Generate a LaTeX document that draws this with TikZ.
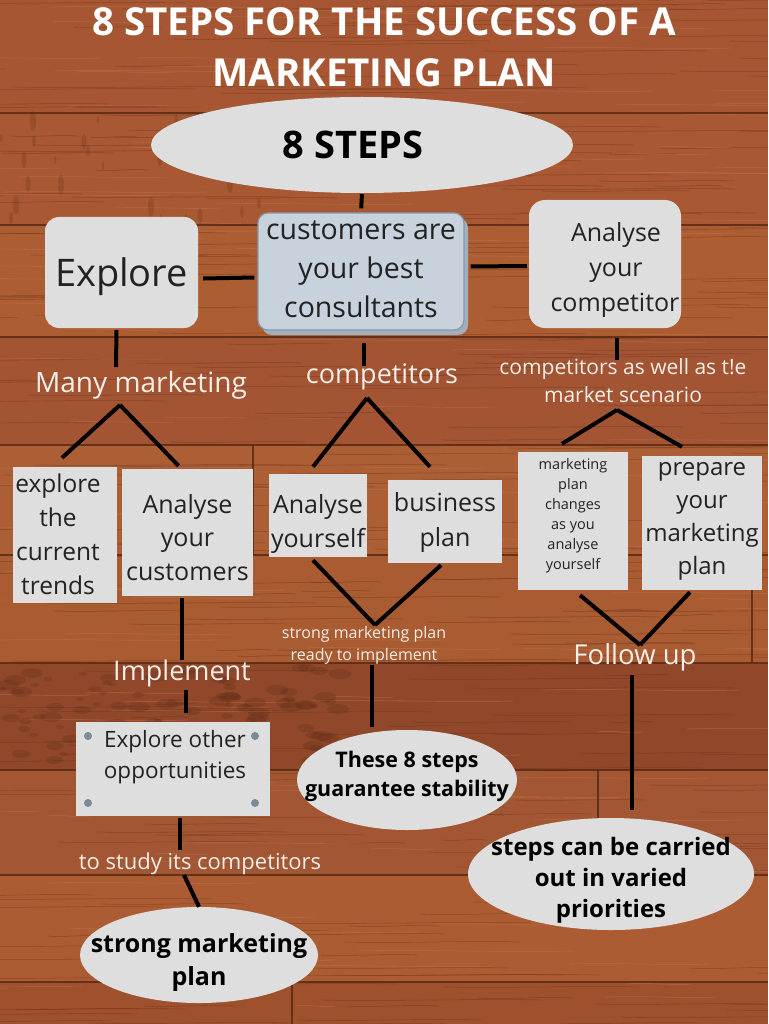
\documentclass[tikz,border=0pt]{standalone}
\usepackage{fontspec}
\setmainfont{Open Sans}
\usetikzlibrary{shapes.geometric,shadows}
\definecolor{boxgray}{HTML}{DEDEDE}
\definecolor{textdark}{HTML}{222222}
\definecolor{lblwhite}{HTML}{F6EEE8}
\definecolor{custfill}{HTML}{C8D2DC}
\definecolor{custline}{HTML}{8797A8}
\definecolor{custshadow}{HTML}{A0AEBD}
\definecolor{dotgray}{HTML}{7C8A98}
\definecolor{seam}{HTML}{5A2A15}
\definecolor{wooddark}{HTML}{5E2C16}
\definecolor{woodlight}{HTML}{C27A4A}
\definecolor{pA}{HTML}{A65632}
\definecolor{pB}{HTML}{A85832}
\definecolor{pC}{HTML}{AD5D32}
\definecolor{pD}{HTML}{A25433}
\definecolor{pE}{HTML}{AC5E35}
\definecolor{pF}{HTML}{A95B32}
\definecolor{pG}{HTML}{91482A}
\definecolor{pH}{HTML}{A35633}
\definecolor{pI}{HTML}{AC5C32}
\definecolor{pJ}{HTML}{9F512E}
% shift a centred text block: #1 = width, #2 = space on top, #3 = space below, #4 = text
\newcommand{\tblock}[4]{\parbox{#1}{\centering\vspace*{#2}#4\par\vspace*{#3}}}
\tikzset{
  conn/.style={line width=4pt, black},
  gbox/.style={fill=boxgray, draw=none, inner sep=0pt, align=center, text=textdark},
  lbl/.style={text=lblwhite, align=center, inner sep=0pt},
  oval/.style={ellipse, fill=boxgray, inner xsep=-45pt, inner ysep=-20pt, align=center, text=black},
  grain/.style={draw=wooddark, opacity=0.28, line width=0.8pt},
  lightgrain/.style={draw=woodlight, opacity=0.35, line width=0.8pt},
  seamline/.style={draw=seam, line width=2.2pt, opacity=0.85},
}
\begin{document}
\begin{tikzpicture}[x=1pt,y=-1pt]
\useasboundingbox (0,0) rectangle (768,1024);
\begin{scope}
\clip (0,0) rectangle (768,1024);
% planks
\fill[pA] (0,0) rectangle (768,113);
\fill[pB] (0,113) rectangle (768,225);
\fill[pC] (0,225) rectangle (768,337);
\fill[pD] (0,337) rectangle (768,445);
\fill[pE] (0,445) rectangle (768,555);
\fill[pF] (0,555) rectangle (768,663);
\fill[pG] (0,663) rectangle (768,770);
\fill[pH] (0,770) rectangle (768,875);
\fill[pI] (0,875) rectangle (768,982);
\fill[pJ] (0,982) rectangle (768,1024);
% grain
\pgfmathsetseed{42}
\foreach \i in {1,...,320}{
  \pgfmathsetmacro{\gx}{random(-100,768)}
  \pgfmathsetmacro{\gy}{random(0,1024)}
  \pgfmathsetmacro{\gl}{random(40,280)}
  \draw[grain] (\gx,\gy) .. controls (\gx+\gl/3,\gy+2) and (\gx+2*\gl/3,\gy-2) .. (\gx+\gl,\gy);
}
\foreach \i in {1,...,160}{
  \pgfmathsetmacro{\gx}{random(-100,768)}
  \pgfmathsetmacro{\gy}{random(0,1024)}
  \pgfmathsetmacro{\gl}{random(40,220)}
  \draw[lightgrain] (\gx,\gy) .. controls (\gx+\gl/3,\gy-2) and (\gx+2*\gl/3,\gy+2) .. (\gx+\gl,\gy);
}
% dark streaks
\foreach \i in {1,...,110}{
  \pgfmathsetmacro{\sx}{random(0,340)}
  \pgfmathsetmacro{\sy}{random(668,765)}
  \pgfmathsetmacro{\sr}{random(2,5)}
  \fill[wooddark, opacity=0.28] (\sx,\sy) ellipse ({\sr*2.2} and {\sr});
}
\foreach \i in {1,...,25}{
  \pgfmathsetmacro{\sx}{random(0,260)}
  \pgfmathsetmacro{\sy}{random(118,220)}
  \pgfmathsetmacro{\sr}{random(2,5)}
  \fill[wooddark, opacity=0.22] (\sx,\sy) ellipse ({\sr*0.6} and {\sr*2});
}
% seams
\foreach \yy in {113,225,337,445,555,663,770,875,982}{
  \draw[seamline] (0,\yy) -- (768,\yy);
}
\draw[seamline] (253,445) -- (253,555);
\draw[seamline] (752,555) -- (752,663);
\draw[seamline] (598,770) -- (598,875);
\draw[seamline] (292,982) -- (292,1024);
\end{scope}

% title
\node[lbl, text=white, font=\fontsize{38.5}{44}\selectfont\bfseries] (t1) at (384,22) {8 STEPS FOR THE SUCCESS OF A};
\node[lbl, text=white, font=\fontsize{38.5}{44}\selectfont\bfseries] (t2) at (384,73) {MARKETING PLAN};

% top ellipse
\node[oval, minimum width=422pt, minimum height=96pt, font=\fontsize{38}{40}\selectfont\bfseries] (steps) at (362,145) {\hspace*{-18pt}8 STEPS};

% top row
\node[gbox, fill=custfill, draw=custline, line width=1.2pt, rounded corners=10pt,
      minimum width=206pt, minimum height=117pt,
      drop shadow={shadow xshift=4pt, shadow yshift=-5pt, fill=custshadow, opacity=1},
      font=\fontsize{28.5}{39}\selectfont] (cust) at (361,271.5) {\tblock{206pt}{0pt}{4pt}{customers are\\your best\\consultants}};
\node[gbox, rounded corners=14pt, minimum width=153pt, minimum height=111pt,
      font=\fontsize{38}{40}\selectfont] (explore) at (121.5,272.5) {\tblock{153pt}{8pt}{0pt}{Explore}};
\node[gbox, rounded corners=16pt, minimum width=152pt, minimum height=128pt,
      font=\fontsize{25}{35}\selectfont] (compet) at (605,264) {\tblock{150pt}{12pt}{0pt}{\hspace*{22pt}Analyse\\\hspace*{22pt}your\\\hspace*{20pt}competitor}};

\draw[conn, shorten <=1pt, shorten >=4pt] (steps.south) -- (cust.north);
\draw[conn] ([shift={(5,6)}]explore.east) -- ([shift={(-3,6)}]cust.west);
\draw[conn] ([shift={(6,-5)}]cust.east) -- ([shift={(-2,2)}]compet.west);

% left column
\node[lbl, font=\fontsize{28}{30}\selectfont] (many) at (141,385) {Many marketing};
\draw[conn] ([xshift=-5pt]explore.south |- 0,330) -- (116,367);
\coordinate (a1) at (120,405);
\node[gbox, minimum width=104pt, minimum height=136pt, font=\fontsize{24.5}{34}\selectfont] (trends) at (65,535) {\hspace*{-14pt}\tblock{100pt}{0pt}{2pt}{explore\\the\\current\\trends}};
\node[gbox, minimum width=131pt, minimum height=127pt, font=\fontsize{25}{33.5}\selectfont] (custs) at (187.5,532.5) {\tblock{131pt}{10pt}{0pt}{Analyse\\your\\customers}};
\draw[conn] (a1) -- ([shift={(-3,-9)}]trends.north);
\draw[conn] (a1) -- ([shift={(-9,-3)}]custs.north);
\node[lbl, font=\fontsize{27}{30}\selectfont] (impl) at (182,673) {Implement};
\draw[conn] ([shift={(-5.5,2)}]custs.south) -- (182,660);
\draw[conn] (186,690) -- (186,713);
\node[gbox, minimum width=194pt, minimum height=94pt] (opp) at (173,769) {};
\foreach \dx/\dy in {88/736,255/736,88/803,255/803}{
  \fill[dotgray] (\dx,\dy) circle (4pt);
}
\node[lbl, text=textdark, font=\fontsize{22.5}{31}\selectfont] (opptext) at (175,757) {Explore other\\opportunities};
\node[lbl, font=\fontsize{22}{26}\selectfont] (study) at (200,864) {to study its competitors};
\draw[conn] ([shift={(7,2)}]opp.south) -- (180,850);
\node[oval, minimum width=238pt, minimum height=96pt, font=\fontsize{25}{33}\selectfont\bfseries] (smp) at (199,955) {\tblock{238pt}{14pt}{0pt}{strong marketing\\plan}};
\draw[conn] (184,875) -- (smp.north);

% middle column
\node[lbl, font=\fontsize{27}{30}\selectfont] (comp) at (382,377) {competitors};
\draw[conn] (364,343) -- (364,366);
\coordinate (a2) at (367,398);
\node[gbox, minimum width=98pt, minimum height=83pt, font=\fontsize{25}{34}\selectfont] (ay) at (318,515.5) {\tblock{98pt}{18pt}{0pt}{Analyse\\yourself}};
\node[gbox, minimum width=114pt, minimum height=83pt, font=\fontsize{25}{35}\selectfont] (bp) at (445,521.5) {\tblock{114pt}{3pt}{0pt}{business\\plan}};
\draw[conn] (a2) -- ([shift={(-5,-7)}]ay.north);
\draw[conn] (a2) -- ([shift={(-15,-13)}]bp.north);
\coordinate (a3) at (375,625);
\draw[conn] ([shift={(-5,3)}]ay.south) -- (a3);
\draw[conn] ([shift={(-4,2)}]bp.south) -- (a3);
\node[lbl, font=\fontsize{16}{22}\selectfont] (smpl) at (364,645) {strong marketing plan\\ready to implement};
\node[oval, minimum width=220pt, minimum height=100pt, font=\fontsize{21.5}{29}\selectfont\bfseries] (stab) at (407,780) {\tblock{220pt}{0pt}{8pt}{These 8 steps\\guarantee stability}};
\draw[conn] (372,665) -- (372,727);

% right column
\node[lbl, font=\fontsize{21}{28}\selectfont] (cs) at (623,381) {competitors as well as t!e\\market scenario};
\draw[conn] (617,338) -- (617,360);
\coordinate (a4) at (617,410);
\node[gbox, minimum width=110pt, minimum height=138pt, font=\fontsize{14.5}{20}\selectfont] (mpc) at (573,521) {\tblock{110pt}{0pt}{10pt}{marketing\\plan\\changes\\as you\\analyse\\yourself}};
\node[gbox, minimum width=120pt, minimum height=134pt, font=\fontsize{24}{33}\selectfont] (pyp) at (702,523) {\tblock{120pt}{0pt}{4pt}{prepare\\your\\marketing\\plan}};
\draw[conn] (a4) -- ([shift={(-11,-8)}]mpc.north);
\draw[conn] (a4) -- ([shift={(-20,-9)}]pyp.north);
\coordinate (a5) at (640,645);
\draw[conn] ([shift={(7,5)}]mpc.south) -- (a5);
\draw[conn] ([shift={(-12,2)}]pyp.south) -- (a5);
\node[lbl, font=\fontsize{27.5}{30}\selectfont] (fu) at (635,657) {Follow up};
\node[oval, minimum width=286pt, minimum height=112pt, font=\fontsize{24}{31}\selectfont\bfseries] (prio) at (611,874) {\tblock{286pt}{12pt}{0pt}{steps can be carried\\out in varied\\priorities}};
\draw[conn] (632,675) -- (632,810);
\end{tikzpicture}
\end{document}
